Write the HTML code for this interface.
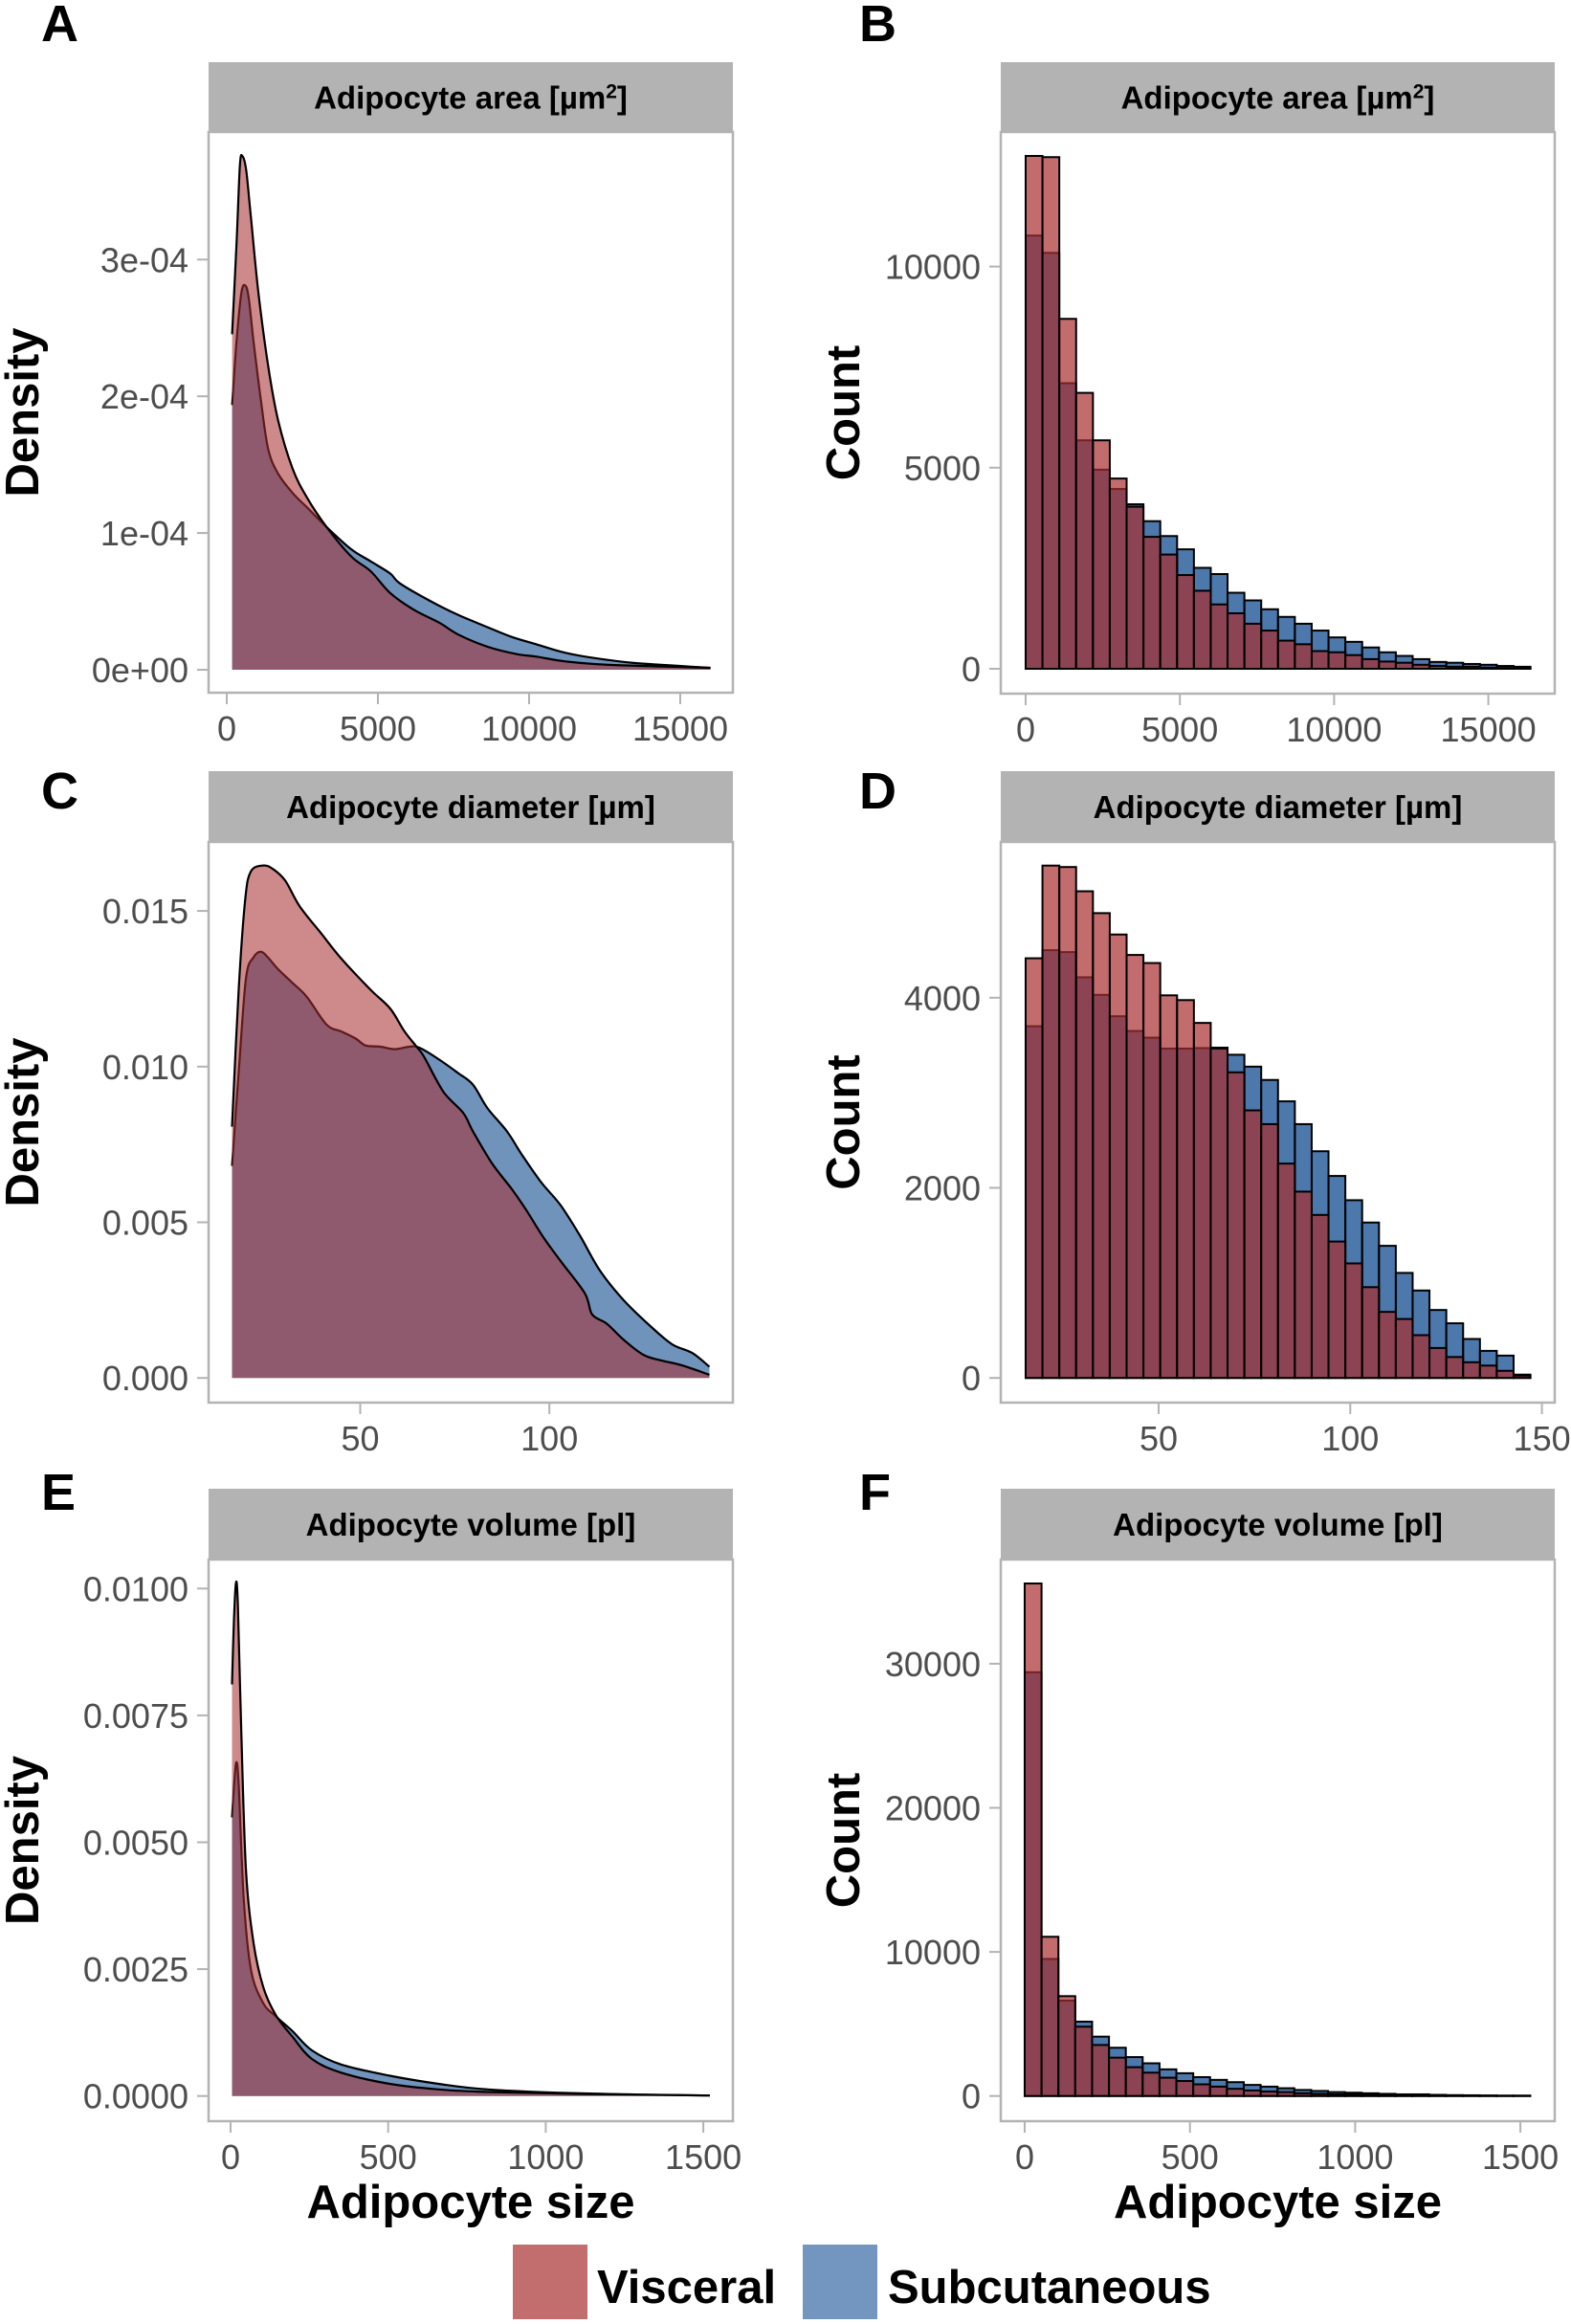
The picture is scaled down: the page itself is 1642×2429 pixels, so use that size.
<!DOCTYPE html>
<html><head><meta charset="utf-8"><style>
html,body{margin:0;padding:0;background:#fff;}
svg{display:block;font-family:"Liberation Sans",Arial,sans-serif;}
</style></head><body>
<svg id="fig" width="1642" height="2429" viewBox="0 0 1642 2429" xmlns="http://www.w3.org/2000/svg"></svg>
<script>
// ---- Panel A: density of adipocyte area ----
const aViscX = [177,323,435,516,645,806,1048,1371,1694,2178,2661,3307,4113,4758,5404,6210,7017,7662,8630,9597,10242,11210,12662,16000];
const aViscY = [2.454e-4,3.114e-4,3.686e-4,3.757e-4,3.65e-4,3.293e-4,2.757e-4,2.221e-4,1.829e-4,1.471e-4,1.257e-4,1.043e-4,0.829e-4,0.721e-4,0.561e-4,0.436e-4,0.346e-4,0.257e-4,0.168e-4,0.114e-4,0.096e-4,0.061e-4,0.036e-4,0.014e-4];
const aSubX = [177,323,484,613,726,887,1129,1371,1694,2178,2661,3307,4113,4758,5404,5726,6694,7662,8630,9436,10242,11049,11855,13468,16000];
const aSubY = [1.936e-4,2.4e-4,2.757e-4,2.81e-4,2.721e-4,2.4e-4,1.971e-4,1.614e-4,1.436e-4,1.293e-4,1.186e-4,1.043e-4,0.882e-4,0.793e-4,0.704e-4,0.632e-4,0.507e-4,0.4e-4,0.311e-4,0.239e-4,0.186e-4,0.132e-4,0.096e-4,0.05e-4,0.014e-4];
// ---- Panel B: histogram of area ----
const bBinStart = 0, bBinWidth = 545.5;
const bVisc = [12750,12720,8700,6860,5680,4730,4030,3280,2840,2330,1940,1600,1380,1120,950,700,610,440,410,340,240,180,150,100,70,50,50,30,20,20];
const bSub = [10770,10340,7100,5680,4950,4470,4090,3670,3300,2970,2510,2355,1890,1700,1480,1290,1120,950,780,670,530,410,320,240,170,150,120,100,70,50];
// ---- Panel C: density of diameter ----
const cViscX = [16.1,17.9,19.6,21.1,24.4,27.0,30.2,34.0,39.8,45.0,52.7,57.9,61.7,64.9,66.9,72.0,77.2,79.8,84.9,90.1,93.9,98.5,103.0,109.4,111.3,115.2,119.7,124.9,130.0,135.2,142.3];
const cViscY = [0.00807,0.01254,0.01537,0.01627,0.01646,0.01634,0.01597,0.01515,0.01426,0.01347,0.01247,0.01187,0.01113,0.01064,0.01031,0.00919,0.00852,0.00792,0.00688,0.00606,0.00539,0.0045,0.00375,0.00271,0.00204,0.00174,0.00122,0.00074,0.00055,0.0004,0.0001];
const cSubX = [16.1,17.9,19.8,21.8,23.7,25.6,28.2,32.1,35.9,41.1,45.0,48.8,51.4,55.3,59.1,63.0,65.6,70.7,75.9,79.8,83.6,88.8,92.7,97.8,103.0,108.1,113.3,119.7,127.4,132.6,137.8,142.3];
const cSubY = [0.00681,0.00986,0.01284,0.01351,0.01369,0.01351,0.01314,0.01269,0.01224,0.01135,0.01113,0.0109,0.01068,0.01064,0.01056,0.01064,0.01061,0.01024,0.00979,0.00942,0.00867,0.00792,0.00718,0.00629,0.00554,0.00457,0.00346,0.00249,0.00159,0.00107,0.0008,0.00036];
// ---- Panel D: histogram of diameter ----
const dBinStart = 15.3, dBinWidth = 4.39;
const dVisc = [4415,5390,5375,5120,4890,4665,4450,4365,4025,3975,3735,3465,3215,2815,2670,2255,1960,1715,1435,1205,955,695,620,450,315,220,165,130,75,25];
const dSub = [3700,4500,4480,4215,4030,3805,3650,3580,3465,3465,3470,3475,3400,3275,3135,2910,2670,2385,2125,1870,1635,1390,1105,920,715,575,410,285,235,35];
// ---- Panel E: density of volume ----
const eViscX = [4.5,10.7,16.9,23,34,49,72.6,103.6,142,196,258,351,505,660,815,1124,1521];
const eViscY = [0.00811,0.00937,0.01011,0.0097,0.00718,0.00445,0.00303,0.00215,0.00161,0.00117,0.00073,0.00046,0.00024,0.00013,0.00008,0.00004,0.00001];
const eSubX = [4.5,10.7,18.5,26,41.6,65,103.6,142,196,258,351,505,660,815,1124,1521];
const eSubY = [0.00549,0.00609,0.00658,0.00609,0.0039,0.00248,0.00183,0.00158,0.00128,0.0009,0.00062,0.0004,0.00024,0.00013,0.00005,0.00001];
// ---- Panel F: histogram of volume ----
const fBinStart = 0, fBinWidth = 51;
const fVisc = [35570,11050,6930,4810,3540,2660,2000,1620,1270,1040,810,650,500,385,310,270,190,150,115,115,80,80,40,40,30,20,20,10,10,10];
const fSub = [29410,9510,6620,5160,4120,3350,2700,2270,1850,1580,1310,1120,960,770,650,540,420,350,270,230,190,150,115,115,80,60,50,40,30,30];
// ---- tick labels ----
const aTicksY = [0,1e-4,2e-4,3e-4], aTickLabY = ["0e+00","1e-04","2e-04","3e-04"];
const bTicksY = [0,5000,10000], bTickLabY = ["0","5000","10000"];
const cTicksY = [0,0.005,0.01,0.015], cTickLabY = ["0.000","0.005","0.010","0.015"];
const dTicksY = [0,2000,4000], dTickLabY = ["0","2000","4000"];
const eTicksY = [0,0.0025,0.005,0.0075,0.01], eTickLabY = ["0.0000","0.0025","0.0050","0.0075","0.0100"];
const fTicksY = [0,10000,20000,30000], fTickLabY = ["0","10000","20000","30000"];
const areaTicksX = [0,5000,10000,15000], areaTickLabX = ["0","5000","10000","15000"];
const cTicksX = [50,100], cTickLabX = ["50","100"];
const dTicksX = [50,100,150], dTickLabX = ["50","100","150"];
const volTicksX = [0,500,1000,1500], volTickLabX = ["0","500","1000","1500"];

const NS = "http://www.w3.org/2000/svg";
const svg = document.getElementById("fig");
function mk(tag, attrs, parent, text){
  const e = document.createElementNS(NS, tag);
  for (const k in attrs) e.setAttribute(k, attrs[k]);
  if (text !== undefined) e.textContent = text;
  (parent || svg).appendChild(e);
  return e;
}
const RED = "rgb(168,46,48)", BLUE = "rgb(0,62,135)";

function smooth(pts){
  let d = "M" + pts[0][0].toFixed(1) + "," + pts[0][1].toFixed(1);
  for (let i = 0; i < pts.length - 1; i++){
    const p0 = pts[Math.max(i-1,0)], p1 = pts[i], p2 = pts[i+1], p3 = pts[Math.min(i+2,pts.length-1)];
    const c1x = p1[0] + (p2[0]-p0[0])/6, c1y = p1[1] + (p2[1]-p0[1])/6;
    const c2x = p2[0] - (p3[0]-p1[0])/6, c2y = p2[1] - (p3[1]-p1[1])/6;
    d += " C" + c1x.toFixed(1) + "," + c1y.toFixed(1) + " " + c2x.toFixed(1) + "," + c2y.toFixed(1) + " " + p2[0].toFixed(1) + "," + p2[1].toFixed(1);
  }
  return d;
}

function panel(cfg){
  const g = mk("g", {});
  
  
  const xs = v => cfg.x0px + (v - cfg.x0v) * cfg.xpp;
  const ys = v => cfg.y0px - v * cfg.ypp;
  const strip = mk("rect", {x:cfg.L, y:cfg.T, width:cfg.R-cfg.L, height:cfg.S-cfg.T, fill:"#B3B3B3"}, g);
  
  
  const st = mk("text", {x:(cfg.L+cfg.R)/2, y:(cfg.T+cfg.S)/2+12, "text-anchor":"middle", "font-size":"33", "font-weight":"bold", fill:"#000"}, g);
  
  
  st.appendChild(document.createTextNode(cfg.title));
  if (cfg.sup){
    mk("tspan", {"baseline-shift":"super", "font-size":"21"}, st, "2");
    st.appendChild(document.createTextNode("]"));
  }
  const mg = mk("g", {}, g);
  
  
  if (cfg.type === "density"){
    cfg.series.forEach(s => {
      const pts = s.x.map((xv,i) => [xs(xv), ys(s.y[i])]);
      const line = smooth(pts);
      const d = line + " L" + pts[pts.length-1][0].toFixed(1) + "," + ys(0).toFixed(1) + " L" + pts[0][0].toFixed(1) + "," + ys(0).toFixed(1) + " Z";
      const area = mk("path", {d:d, fill:s.color, "fill-opacity":"0.56", stroke:"none"}, mg);
      
      
      const ln = mk("path", {d:line, fill:"none", stroke:"#000", "stroke-width":"2.2"}, mg);
      
      
    });
  } else {
    cfg.series.forEach(s => {
      s.v.forEach((val,i) => {
        const x1 = xs(cfg.binStart + i*cfg.binWidth), x2 = xs(cfg.binStart + (i+1)*cfg.binWidth);
        const r = mk("rect", {x:x1, y:ys(val), width:x2-x1, height:ys(0)-ys(val), fill:s.color, "fill-opacity":"0.7", stroke:"#000", "stroke-width":"2"}, mg);
        
        
      });
    });
  }
  const bd = mk("rect", {x:cfg.L, y:cfg.S, width:cfg.R-cfg.L, height:cfg.B-cfg.S, fill:"none", stroke:"#B3B3B3", "stroke-width":"2.5"}, g);
  
  
  cfg.ty.forEach((t,i) => {
    const y = ys(t);
    const tk = mk("line", {x1:cfg.L-12, x2:cfg.L, y1:y, y2:y, stroke:"#B3B3B3", "stroke-width":"2"}, g);
    
    
    const tl = mk("text", {x:cfg.L-21, y:y+13, "text-anchor":"end", "font-size":"36", fill:"#4D4D4D"}, g, cfg.tyl[i]);
    
    
  });
  cfg.tx.forEach((t,i) => {
    const x = xs(t);
    const tk = mk("line", {x1:x, x2:x, y1:cfg.B, y2:cfg.B+12, stroke:"#B3B3B3", "stroke-width":"2"}, g);
    
    
    const tl = mk("text", {x:x, y:cfg.B+50, "text-anchor":"middle", "font-size":"36", fill:"#4D4D4D"}, g, cfg.txl[i]);
    
    
  });
  const cy = (cfg.S + cfg.B)/2;
  const yt = mk("text", {x:cfg.ytx, y:cy, "text-anchor":"middle", "font-size":"49", "font-weight":"bold", fill:"#000", transform:"rotate(-90 "+cfg.ytx+" "+cy+")"}, g, cfg.ytitle);
  
  
  const pl = mk("text", {x:cfg.letterX, y:cfg.letterY, "font-size":"54", "font-weight":"bold", fill:"#000"}, g, cfg.letter);
  
  
  if (cfg.xtitle){
    const xt = mk("text", {x:(cfg.L+cfg.R)/2, y:cfg.B+101, "text-anchor":"middle", "font-size":"49", "font-weight":"bold", fill:"#000"}, g, cfg.xtitle);
    
    
  }
}

const leftCol = {L:218, R:766, ytx:40, letterX:43}, rightCol = {L:1046, R:1625, ytx:898, letterX:898};
panel(Object.assign({}, leftCol, {name:"panel-a-area-density", letter:"A", letterY:43, T:65, S:138, B:724,
  title:"Adipocyte area [µm", sup:true, type:"density", ytitle:"Density",
  x0v:0, x0px:237, xpp:158/5000, y0px:700, ypp:142.9/1e-4,
  series:[{name:"subcutaneous", x:aSubX, y:aSubY, color:BLUE},{name:"visceral", x:aViscX, y:aViscY, color:RED}],
  ty:aTicksY, tyl:aTickLabY, tx:areaTicksX, txl:areaTickLabX}));
panel(Object.assign({}, rightCol, {name:"panel-b-area-histogram", letter:"B", letterY:43, T:65, S:138, B:725,
  title:"Adipocyte area [µm", sup:true, type:"hist", ytitle:"Count",
  x0v:0, x0px:1072, xpp:161.2/5000, y0px:699, ypp:210.2/5000, binStart:bBinStart, binWidth:bBinWidth,
  series:[{name:"subcutaneous", v:bSub, color:BLUE},{name:"visceral", v:bVisc, color:RED}],
  ty:bTicksY, tyl:bTickLabY, tx:areaTicksX, txl:areaTickLabX}));
panel(Object.assign({}, leftCol, {name:"panel-c-diameter-density", letter:"C", letterY:845, T:806, S:880, B:1466,
  title:"Adipocyte diameter [µm]", type:"density", ytitle:"Density",
  x0v:50, x0px:376.5, xpp:197.7/50, y0px:1440.2, ypp:162.7/0.005,
  series:[{name:"subcutaneous", x:cSubX, y:cSubY, color:BLUE},{name:"visceral", x:cViscX, y:cViscY, color:RED}],
  ty:cTicksY, tyl:cTickLabY, tx:cTicksX, txl:cTickLabX}));
panel(Object.assign({}, rightCol, {name:"panel-d-diameter-histogram", letter:"D", letterY:845, T:806, S:880, B:1466,
  title:"Adipocyte diameter [µm]", type:"hist", ytitle:"Count",
  x0v:50, x0px:1211, xpp:200.3/50, y0px:1440.2, ypp:198.7/2000, binStart:dBinStart, binWidth:dBinWidth,
  series:[{name:"subcutaneous", v:dSub, color:BLUE},{name:"visceral", v:dVisc, color:RED}],
  ty:dTicksY, tyl:dTickLabY, tx:dTicksX, txl:dTickLabX}));
panel(Object.assign({}, leftCol, {name:"panel-e-volume-density", letter:"E", letterY:1578, T:1556, S:1630, B:2217,
  title:"Adipocyte volume [pl]", type:"density", ytitle:"Density", xtitle:"Adipocyte size",
  x0v:0, x0px:241, xpp:164.7/500, y0px:2190.7, ypp:132.6/0.0025,
  series:[{name:"subcutaneous", x:eSubX, y:eSubY, color:BLUE},{name:"visceral", x:eViscX, y:eViscY, color:RED}],
  ty:eTicksY, tyl:eTickLabY, tx:volTicksX, txl:volTickLabX}));
panel(Object.assign({}, rightCol, {name:"panel-f-volume-histogram", letter:"F", letterY:1578, T:1556, S:1630, B:2217,
  title:"Adipocyte volume [pl]", type:"hist", ytitle:"Count", xtitle:"Adipocyte size",
  x0v:0, x0px:1071, xpp:172.7/500, y0px:2190.7, ypp:150.6/10000, binStart:fBinStart, binWidth:fBinWidth,
  series:[{name:"subcutaneous", v:fSub, color:BLUE},{name:"visceral", v:fVisc, color:RED}],
  ty:fTicksY, tyl:fTickLabY, tx:volTicksX, txl:volTickLabX}));

const lg = mk("g", {});


const k1 = mk("rect", {x:536, y:2346, width:78, height:78, fill:"#C26E6E"}, lg);


const t1 = mk("text", {x:624, y:2407, "font-size":"49", "font-weight":"bold", fill:"#000"}, lg, "Visceral");


const k2 = mk("rect", {x:839, y:2346, width:78, height:78, fill:"#7396C0"}, lg);


const t2 = mk("text", {x:928, y:2407, "font-size":"49", "font-weight":"bold", fill:"#000"}, lg, "Subcutaneous");


</script>
</body></html>
